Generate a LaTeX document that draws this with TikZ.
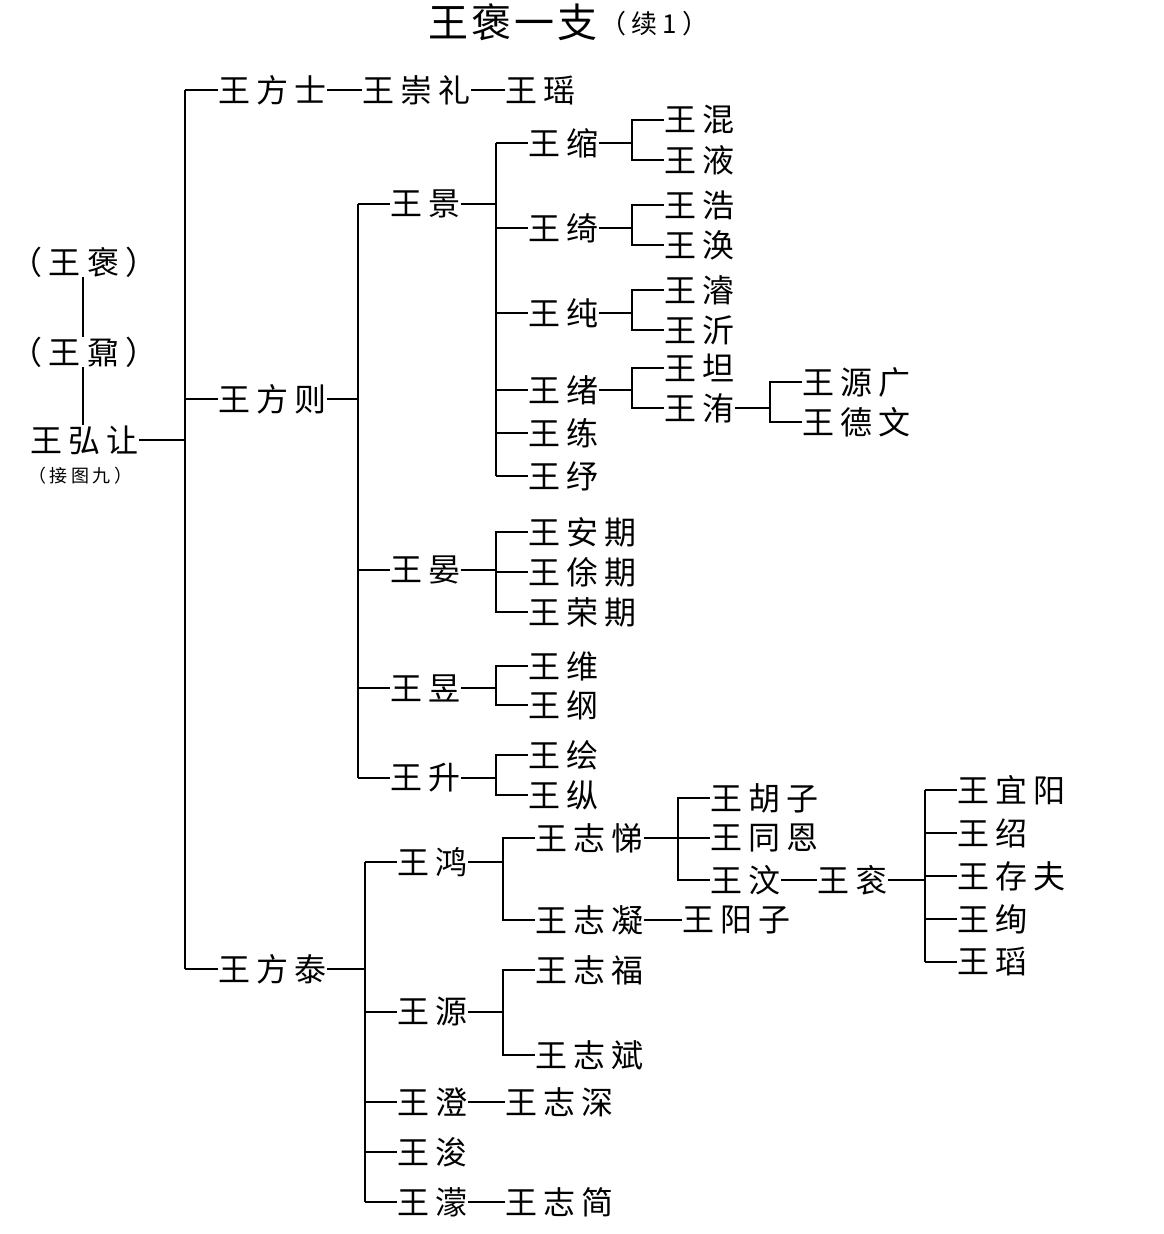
\documentclass[tikz,border=0pt]{standalone}
\usepackage{fontspec}
\newfontfamily\cjk[LetterSpace=20]{Noto Sans CJK SC}
\newfontfamily\cjktitle[LetterSpace=8]{Noto Sans CJK SC}
\usetikzlibrary{positioning}

\begin{document}
\begin{tikzpicture}[
    x=1pt, y=-1pt,
    person/.style={anchor=west, inner sep=0pt, font=\cjk\fontsize{32}{32}\selectfont},
    note/.style={inner sep=0pt, font=\cjk\fontsize{18}{18}\selectfont},
    link/.style={line width=1.8pt}
    ]
    \useasboundingbox[fill=white] (0,0) rectangle (1164,1234);

    % title
    \node[anchor=west, inner sep=0pt, font=\cjktitle\fontsize{40}{40}\selectfont] (title) at (428,22) {王褒一支};
    \node[inner sep=0pt, font=\cjk\fontsize{26}{26}\selectfont, right=2pt of title, yshift=-2pt] (sub) {（续1）};

    % ancestors
    \node[person, anchor=center] (bao) at (84,262) {（王褒）};
    \node[person, anchor=center] (nai) at (84,352) {（王鼐）};
    \node[person] (hongrang) at (30,440) {王弘让};
    \node[note, anchor=west] (jie) at (28,476) {（接图九）};
    \draw[link] (bao.south -| 83,0) -- (nai.north -| 83,0);
    \draw[link] (nai.south -| 83,0) -- (hongrang.north -| 83,0);

    % first generation
    \coordinate (trunk) at (185,0);
    \node[person] (fangshi) at (218,90) {王方士};
    \node[person] (chongli) at (362,90) {王崇礼};
    \node[person] (yao) at (505,90) {王瑶};
    \node[person] (fangze) at (218,399) {王方则};
    \node[person] (fangtai) at (218,969) {王方泰};
    \draw[link] (hongrang.east) -- (trunk |- hongrang.east);
    \draw[link] (trunk |- fangshi.west) -- (trunk |- fangtai.west);
    \foreach \c in {fangshi,fangze,fangtai}
        \draw[link] (trunk |- \c.west) -- (\c.west);
    \draw[link] (fangshi.east) -- (chongli.west);
    \draw[link] (chongli.east) -- (yao.west);

    % branch of fangze
    \coordinate (b-fangze) at (358,0);
    \node[person] (jing) at (390,204) {王景};
    \node[person] (yan) at (390,570) {王晏};
    \node[person] (yu) at (390,688) {王昱};
    \node[person] (sheng) at (390,778) {王升};
    \draw[link] (fangze.east) -- (b-fangze |- fangze.east);
    \draw[link] (b-fangze |- jing.west) -- (b-fangze |- sheng.west);
    \foreach \c in {jing,yan,yu,sheng}
        \draw[link] (b-fangze |- \c.west) -- (\c.west);

    \coordinate (b-jing) at (496,0);
    \node[person] (suo) at (528,143) {王缩};
    \node[person] (qi) at (528,228) {王绮};
    \node[person] (chun) at (528,313) {王纯};
    \node[person] (xu) at (528,390) {王绪};
    \node[person] (lian) at (528,433) {王练};
    \node[person] (shu) at (528,476) {王纾};
    \draw[link] (jing.east) -- (b-jing |- jing.east);
    \draw[link] (b-jing |- suo.west) -- (b-jing |- shu.west);
    \foreach \c in {suo,qi,chun,xu,lian,shu}
        \draw[link] (b-jing |- \c.west) -- (\c.west);

    \coordinate (b-fourth) at (632,0);
    \node[person] (hun) at (664,120) {王混};
    \node[person] (ye) at (664,160) {王液};
    \node[person] (hao) at (664,205) {王浩};
    \node[person] (huan) at (664,245) {王涣};
    \node[person] (junn) at (664,290) {王濬};
    \node[person] (yi) at (664,330) {王沂};
    \node[person] (tan) at (664,368) {王坦};
    \node[person] (wei) at (664,408) {王洧};
    \foreach \p/\a/\b in {suo/hun/ye, qi/hao/huan, chun/junn/yi, xu/tan/wei} {
        \draw[link] (\p.east) -- (b-fourth |- \p.east);
        \draw[link] (\a.west) -| (b-fourth |- \b.west) -- (\b.west);
    }

    \coordinate (b-wei) at (770,0);
    \node[person] (yuanguang) at (802,382) {王源广};
    \node[person] (dewen) at (802,422) {王德文};
    \draw[link] (wei.east) -- (b-wei |- wei.east);
    \draw[link] (yuanguang.west) -| (b-wei |- dewen.west) -- (dewen.west);

    \coordinate (b-third) at (496,0);
    \node[person] (anqi) at (528,532) {王安期};
    \node[person] (xuqi) at (528,572) {王俆期};
    \node[person] (rongqi) at (528,612) {王荣期};
    \node[person] (weiw) at (528,666) {王维};
    \node[person] (gang) at (528,705) {王纲};
    \node[person] (hui) at (528,755) {王绘};
    \node[person] (zong) at (528,795) {王纵};
    \draw[link] (yan.east) -- (b-third |- yan.east);
    \draw[link] (anqi.west) -| (b-third |- rongqi.west) -- (rongqi.west);
    \draw[link] (b-third |- xuqi.west) -- (xuqi.west);
    \foreach \p/\a/\b in {yu/weiw/gang, sheng/hui/zong} {
        \draw[link] (\p.east) -- (b-third |- \p.east);
        \draw[link] (\a.west) -| (b-third |- \b.west) -- (\b.west);
    }

    % branch of fangtai
    \coordinate (b-fangtai) at (365,0);
    \node[person] (hong) at (397,862) {王鸿};
    \node[person] (yuan) at (397,1012) {王源};
    \node[person] (cheng) at (397,1102) {王澄};
    \node[person] (jun) at (397,1152) {王浚};
    \node[person] (meng) at (397,1202) {王濛};
    \draw[link] (fangtai.east) -- (b-fangtai |- fangtai.east);
    \draw[link] (b-fangtai |- hong.west) -- (b-fangtai |- meng.west);
    \foreach \c in {hong,yuan,cheng,jun,meng}
        \draw[link] (b-fangtai |- \c.west) -- (\c.west);

    \coordinate (b-hong) at (503,0);
    \node[person] (zhiti) at (535,838) {王志悌};
    \node[person] (zhining) at (535,920) {王志凝};
    \node[person] (zhifu) at (535,970) {王志福};
    \node[person] (zhibin) at (535,1055) {王志斌};
    \foreach \p/\a/\b in {hong/zhiti/zhining, yuan/zhifu/zhibin} {
        \draw[link] (\p.east) -- (b-hong |- \p.east);
        \draw[link] (\a.west) -| (b-hong |- \b.west) -- (\b.west);
    }
    \node[person] (zhishen) at (505,1102) {王志深};
    \node[person] (zhijian) at (505,1202) {王志简};
    \draw[link] (cheng.east) -- (zhishen.west);
    \draw[link] (meng.east) -- (zhijian.west);

    \coordinate (b-zhiti) at (678,0);
    \node[person] (huzi) at (710,798) {王胡子};
    \node[person] (tongen) at (710,838) {王同恩};
    \node[person] (wen) at (710,880) {王汶};
    \draw[link] (zhiti.east) -- (b-zhiti |- zhiti.east);
    \draw[link] (huzi.west) -| (b-zhiti |- wen.west) -- (wen.west);
    \draw[link] (b-zhiti |- tongen.west) -- (tongen.west);
    \node[person] (yangzi) at (682,920) {王阳子};
    \draw[link] (zhining.east) -- (yangzi.west);

    \node[person] (gun) at (817,880) {王衮};
    \draw[link] (wen.east) -- (gun.west);
    \coordinate (b-gun) at (925,0);
    \node[person] (yiyang) at (957,790) {王宜阳};
    \node[person] (shao) at (957,833) {王绍};
    \node[person] (cunfu) at (957,876) {王存夫};
    \node[person] (xuan) at (957,919) {王绚};
    \node[person] (tao) at (957,962) {王瑫};
    \draw[link] (gun.east) -- (b-gun |- gun.east);
    \draw[link] (b-gun |- yiyang.west) -- (b-gun |- tao.west);
    \foreach \c in {yiyang,shao,cunfu,xuan,tao}
        \draw[link] (b-gun |- \c.west) -- (\c.west);
  \end{tikzpicture}
\end{document}
